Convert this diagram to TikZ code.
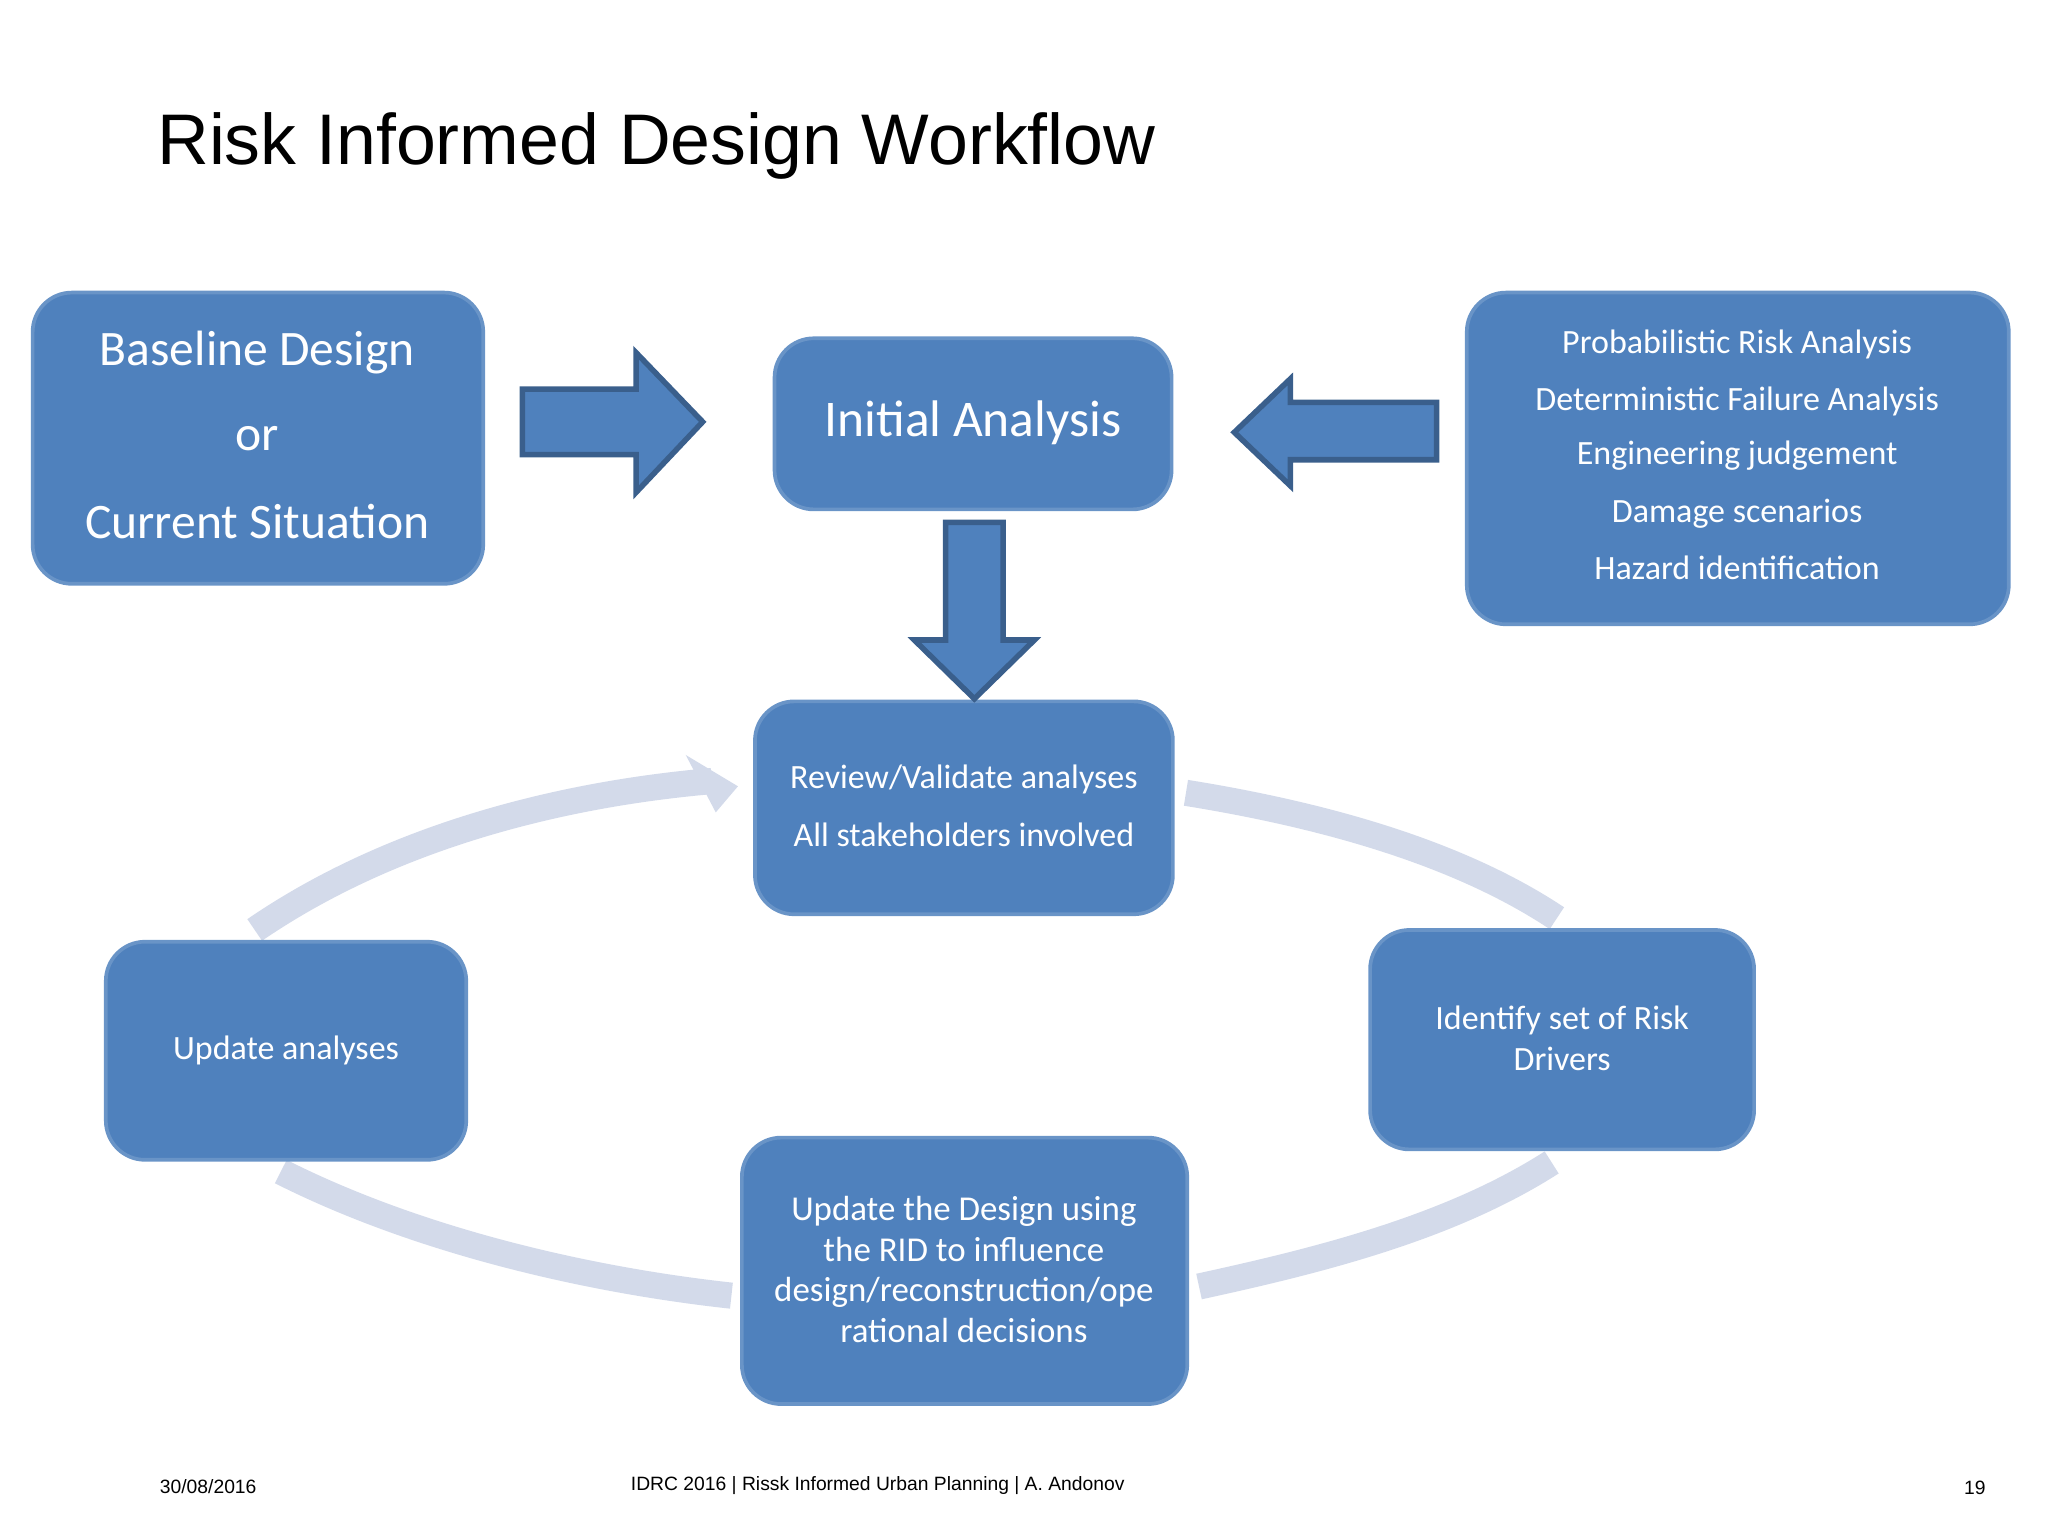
\documentclass[tikz,border=0pt]{standalone}
\usepackage{fontspec}
\setmainfont{Carlito}
\newfontfamily\arialf{Liberation Sans}
\usetikzlibrary{arrows.meta}
\definecolor{bfill}{HTML}{4F81BD}
\definecolor{bdark}{HTML}{3A5F8C}
\definecolor{cyc}{HTML}{D3DAEA}
\begin{document}
\begin{tikzpicture}[x=0.01cm,y=-0.01cm,
  box/.style={fill=bfill,draw=bfill!85!white,line width=0.8pt,rounded corners=0.3cm},
  txt/.style={text=white,align=center},
  barrow/.style={fill=bfill,draw=bdark,line width=1.2pt,line join=miter},
  cycle/.style={draw=cyc,line width=0.2cm}]
\useasboundingbox (0,0) rectangle (1568,1176);
\node[anchor=west,font=\arialf\fontsize{15.6pt}{18pt}\selectfont] (title) at (108,112) {Risk Informed Design Workflow};
% cycle arcs
\draw[cycle] (195,712) .. controls (300,640) and (430,608) .. (545,598);
\fill[cyc] (525,578) -- (565,602) -- (548,622) -- cycle;
\draw[cycle] (908,607) .. controls (1020,625) and (1120,655) .. (1192,703);
\draw[cycle] (1188,890) .. controls (1110,940) and (1010,965) .. (918,985);
\draw[cycle] (215,897) .. controls (320,950) and (450,980) .. (560,992);
% boxes
\draw[box] (25,224) rectangle (370,447);
\node[txt,font=\fontsize{10.8pt}{13pt}\selectfont] (base1) at (197,270) {Baseline Design};
\node[txt,font=\fontsize{10.8pt}{13pt}\selectfont] (base2) at (197,336) {or};
\node[txt,font=\fontsize{10.8pt}{13pt}\selectfont] (base3) at (197,399) {Current Situation};
\draw[box] (593,259) rectangle (897,390);
\node[txt,font=\fontsize{11.2pt}{13pt}\selectfont] (init) at (745,324) {Initial Analysis};
\draw[box] (1123,224) rectangle (1538,478);
\foreach \t/\y [count=\i] in {Probabilistic Risk Analysis/264,Deterministic Failure Analysis/307,Engineering judgement/349,Damage scenarios/393,Hazard identification/435}
  \node[txt,font=\fontsize{7.4pt}{9pt}\selectfont] (r\i) at (1330,\y) {\t};
\draw[box] (578,537) rectangle (898,700);
\node[txt,font=\fontsize{7.4pt}{12.5pt}\selectfont] (rev) at (738,617) {Review/Validate analyses\\All stakeholders involved};
\draw[box] (81,721) rectangle (357,888);
\node[txt,font=\fontsize{7.4pt}{9pt}\selectfont] (upd) at (219,804) {Update analyses};
\draw[box] (1049,712) rectangle (1343,880);
\node[txt,font=\fontsize{7.4pt}{8.8pt}\selectfont] (ident) at (1196,795) {Identify set of Risk\\Drivers};
\draw[box] (568,871) rectangle (909,1075);
\node[txt,font=\fontsize{7.6pt}{8.8pt}\selectfont] (ud) at (738,972) {Update the Design using\\the RID to influence\\design/reconstruction/ope\\rational decisions};
% block arrows
\draw[barrow] (400,298) -- (487,298) -- (487,270) -- (538,323) -- (487,377) -- (487,348) -- (400,348) -- cycle;
\draw[barrow] (1100,308) -- (988,308) -- (988,290) -- (945,331) -- (988,372) -- (988,352) -- (1100,352) -- cycle;
\draw[barrow] (724,400) -- (768,400) -- (768,490) -- (792,490) -- (746,535) -- (700,490) -- (724,490) -- cycle;
% footer
\node[anchor=west,font=\arialf\fontsize{4.2pt}{5pt}\selectfont] (date) at (110,1138) {30/08/2016};
\node[font=\arialf\fontsize{4.2pt}{5pt}\selectfont] (foot) at (672,1137) {IDRC 2016 | Rissk Informed Urban Planning | A. Andonov};
\node[font=\arialf\fontsize{4.2pt}{5pt}\selectfont] (pg) at (1512,1139) {19};
\end{tikzpicture}
\end{document}
